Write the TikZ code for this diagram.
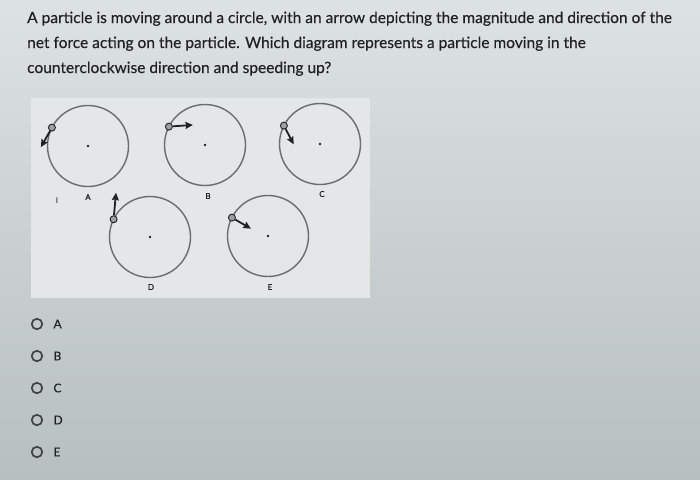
\documentclass[tikz,border=0pt]{standalone}
\usepackage{fontspec}
\setmainfont{Lato}
\setsansfont{Lato}
\newfontfamily\heavyfont{Lato}[FakeBold=0.3]
\usetikzlibrary{arrows.meta,calc}
\definecolor{screentop}{HTML}{DDE2E3}
\definecolor{screenbot}{HTML}{B8BFC0}
\definecolor{panelbg}{HTML}{E3E7E8}
\definecolor{ringgray}{HTML}{6A6D6E}
\definecolor{inkdark}{HTML}{1F2123}
\tikzset{
  orbit/.style={draw=ringgray,line width=1.4pt,circle,minimum size=81pt,
    inner sep=0pt,outer sep=0pt},
  particle/.style={draw=inkdark,fill=gray!75,circle,inner sep=0pt,
    minimum size=7pt,line width=0.9pt},
  force/.style={-{Stealth[length=7.5pt,width=7pt,inset=1pt]},line width=1.8pt,inkdark},
  tag/.style={font=\heavyfont\fontsize{8}{9}\selectfont,text=inkdark},
  radio/.style={draw=inkdark!85,line width=1.7pt,circle,minimum size=10.5pt,
    inner sep=0pt},
  choice/.style={font=\heavyfont\fontsize{12}{13}\selectfont,text=inkdark,anchor=west},
  question/.style={font=\heavyfont\fontsize{15.5}{17}\selectfont,text=inkdark,
    anchor=base west,inner sep=0pt}
}
\begin{document}
\begin{tikzpicture}[x=1pt,y=-1pt]
\shade[top color=screentop,bottom color=screenbot] (0,0) rectangle (700,479);
\useasboundingbox (0,0) rectangle (700,479);
\fill[panelbg] (31,98) rectangle (370,298);
% question text
\node[question] (q1) at (27,23)
  {A particle is moving around a circle, with an arrow depicting the magnitude and direction of the};
\node[question] (q2) at (27,48)
  {net force acting on the particle. Which diagram represents a particle moving in the};
\node[question] (q3) at (27,73)
  {counterclockwise direction and speeding up?};
% the five circles
\node[orbit] (cA) at (88,146) {};
\node[orbit] (cB) at (205,145) {};
\node[orbit] (cC) at (320,144) {};
\node[orbit] (cD) at (150,237) {};
\node[orbit] (cE) at (268,236) {};
\foreach \c in {cA,cB,cC,cD,cE}
  \fill[inkdark] (\c) circle (1.4pt);
% particles and force arrows
\node[particle] (pA) at (cA.153) {};
\node[particle] (pB) at (cB.153) {};
\node[particle] (pC) at (cC.153) {};
\node[particle] (pD) at (cD.154) {};
\node[particle] (pE) at (cE.153) {};
\coordinate (fA) at ($(pA)+(-11,19.5)$);
\coordinate (fB) at ($(pB)+(24,-1.7)$);
\coordinate (fC) at ($(pC)+(9.7,18.7)$);
\coordinate (fD) at ($(pD)+(2.4,-26.5)$);
\coordinate (fE) at ($(pE)+(19,11)$);
\draw[force] (pA) -- (fA);
\draw[force] (pB) -- (fB);
\draw[force] (pC) -- (fC);
\draw[force] (pD) -- (fD);
\draw[force] (pE) -- (fE);
% letters under the circles
\node[tag] (lA) at (88,197) {A};
\node[tag] (lB) at (208,196) {B};
\node[tag] (lC) at (322,194) {C};
\node[tag] (lD) at (151,287) {D};
\node[tag] (lE) at (270,287) {E};
\node[font=\fontsize{8}{9}\selectfont,text=inkdark] (lI) at (57,201) {I};
% answer choices
\foreach \y/\t [count=\i] in {324/A,356/B,388/C,420/D,452/E} {
  \node[radio] (r\i) at (37,\y) {};
  \node[choice] (o\i) at (50,\y) {\t};
}
\end{tikzpicture}
\end{document}
